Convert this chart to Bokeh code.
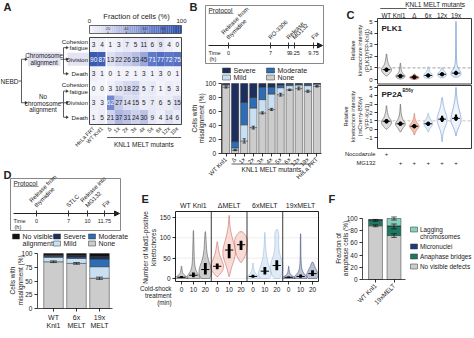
import numpy as np
from math import pi
from bokeh.plotting import figure
from bokeh.models import Range1d, LinearAxis, FixedTicker, LinearColorMapper, ColumnDataSource
from bokeh.core.properties import value
from bokeh.embed import file_html
from bokeh.resources import INLINE

W, H = 474, 338
FONT = "Liberation Sans"

# ======================= DATA =======================
# A: cell fate heat map (fraction of cells, %)
hm_cols = ["HeLa FRT", "WT Knl1", "Δ", "1x", "2x", "3x", "4x", "5x", "6x", "12x", "19x"]
align_cohesion = [3, 4, 1, 3, 7, 5, 11, 6, 9, 4, 0]
align_division = [90, 87, 13, 22, 26, 33, 45, 71, 77, 72, 75]
align_death = [3, 1, 0, 1, 2, 1, 3, 1, 3, 0, 1]
noalign_cohesion = [0, 0, 3, 10, 18, 22, 5, 7, 1, 5, 3]
noalign_division = [3, 3, 62, 27, 14, 15, 5, 7, 6, 5, 15]
noalign_death = [1, 5, 21, 37, 31, 24, 30, 9, 4, 14, 6]
cbar_inner_ticks = [20, 40, 60, 80]

# B: misalignment after RO-3306 release (%)
b_labels = ["WT Knl1", "Δ", "1x", "2x", "3x", "4x", "5x", "6x", "12x", "19x", "HeLa FRT"]
b_none = [95, 5, 18, 37, 58, 63, 84, 91, 93, 89, 96]
b_mild = [3, 3, 23, 28, 19, 22, 10, 6, 5, 8, 3]
b_moderate = [1, 9, 32, 15, 18, 10, 4, 2, 1, 2, 1]
b_severe = [1, 83, 27, 20, 5, 5, 2, 1, 1, 1, 0]
b_none_err = [1.5, 1, 3, 2, 1.5, 1.5, 2, 1, 2, 1.5, 1]
b_ticks = [0, 20, 40, 60, 80, 100]
b_times = ["0", "7", "9", "9.25", "9.75"]
b_events = ["Release from\nthymidine", "RO-3306", "Release", "MG132", "Fix"]

# C: relative kinetochore intensities (violins)
c_groups = ["WT Knl1", "Δ", "6x", "12x", "19x"]
c_nocodazole = ["+", "", "", "", "", ""]
c_mg132 = ["", "+", "+", "+", "+", "+"]
plk_ticks = [0, 1, 2, 3, 4, 5]
plk_ys = [[0.3, 0.5, 0.7, 0.85, 1.0, 1.2, 1.5, 1.8, 2.2],
          [0.05, 0.15, 0.3, 0.45, 0.6, 0.9, 1.4],
          [0.0, 0.1, 0.2, 0.3, 0.5],
          [0.1, 0.2, 0.35, 0.5, 0.7, 1.1],
          [0.15, 0.3, 0.45, 0.6, 0.8, 1.0],
          [0.2, 0.35, 0.55, 0.75, 1.0, 1.5, 2.5, 3.5, 5.0]]
plk_hw = [[0.05, 0.25, 0.42, 0.45, 0.4, 0.22, 0.12, 0.06, 0.02],
          [0.1, 0.35, 0.42, 0.3, 0.15, 0.06, 0.02],
          [0.15, 0.4, 0.45, 0.2, 0.03],
          [0.15, 0.4, 0.42, 0.3, 0.12, 0.02],
          [0.15, 0.35, 0.42, 0.3, 0.12, 0.03],
          [0.15, 0.4, 0.45, 0.35, 0.15, 0.05, 0.03, 0.02, 0.01]]
plk_med = [0.85, 0.3, 0.2, 0.35, 0.45, 0.55]
plk_q1 = [0.7, 0.2, 0.12, 0.25, 0.35, 0.42]
plk_q3 = [1.0, 0.4, 0.28, 0.45, 0.55, 0.75]
pp2_ticks = [-1, 0, 1, 2, 3, 4, 5]
pp2_ys = [[0.0, 0.3, 0.6, 0.9, 1.1, 1.4, 1.8, 2.3, 2.8],
          [-0.3, 0.1, 0.4, 0.65, 0.9, 1.2, 1.6, 2.2, 3.0],
          [-0.7, -0.2, 0.1, 0.35, 0.6, 0.9, 1.3, 1.9],
          [-0.3, 0.1, 0.4, 0.65, 0.9, 1.2, 1.5, 1.9],
          [-1.5, -0.5, 0.2, 0.7, 1.2, 1.7, 2.3, 3.0, 3.8],
          [-0.8, -0.2, 0.4, 0.9, 1.3, 1.8, 2.5, 3.3, 4.2, 5.0]]
pp2_hw = [[0.05, 0.25, 0.42, 0.45, 0.38, 0.22, 0.12, 0.05, 0.02],
          [0.05, 0.2, 0.4, 0.45, 0.35, 0.2, 0.1, 0.04, 0.01],
          [0.02, 0.15, 0.35, 0.45, 0.35, 0.18, 0.06, 0.01],
          [0.03, 0.15, 0.35, 0.42, 0.35, 0.2, 0.08, 0.01],
          [0.01, 0.08, 0.25, 0.4, 0.45, 0.38, 0.22, 0.1, 0.02],
          [0.02, 0.1, 0.3, 0.45, 0.45, 0.38, 0.25, 0.12, 0.05, 0.01]]
pp2_med = [0.95, 0.65, 0.35, 0.65, 1.2, 1.3]
pp2_q1 = [0.7, 0.45, 0.15, 0.45, 0.85, 1.0]
pp2_q3 = [1.2, 0.9, 0.55, 0.85, 1.6, 1.75]

# D: misalignment after STLC washout (%)
d_labels = ["WT\nKnl1", "6x\nMELT", "19x\nMELT"]
d_none = [85, 82, 55]
d_mild = [8, 9, 21]
d_moderate = [2, 2, 14]
d_severe = [2, 3, 4]
d_novis = [3, 4, 6]
d_none_err = [1.5, 1.5, 2]
d_ticks = [0, 25, 50, 75, 100]
d_times = ["0", "7", "10", "11.75"]
d_events = ["Release from\nthymidine", "STLC", "Release into\nMG132", "Fix"]

# E: Mad1-positive kinetochores after cold shock
e_groups = ["WT Knl1", "ΔMELT", "6xMELT", "19xMELT"]
e_times = ["0", "10", "20"]
e_ticks = [0, 50, 100, 150]
e_ys = [[0, 3, 6, 10, 15, 22, 30],
        [0, 5, 10, 18, 30, 50, 80, 118],
        [0, 8, 18, 30, 45, 65, 90, 115],
        [5, 15, 22, 30, 38, 50, 65, 80, 90],
        [5, 25, 45, 60, 75, 90, 110, 130, 155],
        [40, 55, 70, 85, 95, 105, 115],
        [0, 4, 8, 14, 22, 30, 38],
        [0, 8, 15, 25, 40, 60, 85, 113],
        [0, 12, 25, 40, 55, 70, 90, 110, 120],
        [0, 3, 6, 10, 18, 30],
        [0, 4, 8, 15, 25, 45, 75, 110],
        [0, 5, 10, 18, 28, 40]]
e_hw = [[0.45, 0.45, 0.3, 0.15, 0.07, 0.04, 0.02],
        [0.45, 0.45, 0.35, 0.2, 0.1, 0.06, 0.04, 0.01],
        [0.3, 0.42, 0.45, 0.38, 0.22, 0.1, 0.06, 0.02],
        [0.05, 0.3, 0.42, 0.45, 0.4, 0.25, 0.12, 0.05, 0.02],
        [0.02, 0.15, 0.35, 0.45, 0.42, 0.3, 0.15, 0.05, 0.01],
        [0.05, 0.3, 0.42, 0.45, 0.45, 0.35, 0.1],
        [0.45, 0.45, 0.3, 0.15, 0.06, 0.03, 0.01],
        [0.3, 0.45, 0.45, 0.35, 0.2, 0.1, 0.04, 0.01],
        [0.2, 0.38, 0.45, 0.4, 0.25, 0.15, 0.12, 0.15, 0.05],
        [0.45, 0.45, 0.28, 0.12, 0.04, 0.01],
        [0.45, 0.45, 0.35, 0.18, 0.07, 0.03, 0.02, 0.01],
        [0.3, 0.4, 0.42, 0.32, 0.18, 0.04]]
e_med = [3, 8, 22, 30, 70, 83, 5, 18, 32, 3, 5, 12]
e_q1 = [1, 3, 10, 23, 50, 70, 2, 10, 20, 1, 2, 6]
e_q3 = [6, 15, 38, 37, 85, 93, 9, 28, 45, 5, 10, 20]

# F: anaphase defects (%)
f_labels = ["WT Knl1", "19xMELT"]
f_none = [88, 72]
f_bridges = [9, 15]
f_micro = [1, 1]
f_lagging = [0, 12]
f_none_err = [1.5, 3]
f_bridge_err = [1.5, 4]
f_lag_err = [0, 2.5]
f_ticks = [0, 20, 40, 60, 80, 100]

# ======================= STYLE =======================
SEV, MOD, MILD, NONE, NOVIS = "#1c2f5c", "#2e6cb3", "#c9e0f2", "#cccccc", "#111111"
LAG, MICRO, BRIDGE = "#86d0bd", "#1e3a78", "#1d7a62"
EDGE = "#333333"

def xmap(d0, p0, d1, p1):
    k = (d1 - d0) / (p1 - p0)
    return Range1d(start=d0 - p0 * k, end=d0 + (W - p0) * k)

def ymap(d0, p0, d1, p1):
    k = (d1 - d0) / (p1 - p0)
    return Range1d(start=d0 + (H - p0) * k, end=d0 - p0 * k)

def inv(d0, p0, d1, p1):
    return lambda px: d0 + (px - p0) * (d1 - d0) / (p1 - p0)

p = figure(width=W, height=H, x_range=Range1d(0, W), y_range=Range1d(H, 0),
           x_axis_location=None, y_axis_location=None, toolbar_location=None,
           output_backend="svg", min_border=0, outline_line_color=None)
p.grid.visible = False

p.extra_x_ranges = {
    "hmx": xmap(-0.5, 89, 10.5, 181), "cbx": xmap(0, 89, 100, 181),
    "bbx": xmap(-0.5, 221, 10.5, 321), "cx": xmap(0, 386, 5, 455.5),
    "dx": xmap(0, 53, 2, 99), "ex": xmap(0, 181, 11, 312), "fx": xmap(0, 375, 1, 393.5)}
p.extra_y_ranges = {
    "hmy": ymap(-0.5, 37, 5.5, 124), "bby": ymap(0, 153, 100, 83),
    "plk": ymap(0, 79, 5, 21), "pp2": ymap(-1, 137, 5, 87),
    "dy": ymap(0, 308, 100, 253), "ey": ymap(0, 278, 150, 217), "fy": ymap(0, 279, 100, 218)}


def _kw(xr, yr):
    kw = {}
    if xr:
        kw["x_range_name"] = xr
    if yr:
        kw["y_range_name"] = yr
    return kw


def T(x, y, text, size=6.5, align="left", baseline="middle", angle=0.0, color="#222222",
      bold=False, xr=None, yr=None):
    xs = list(x) if isinstance(x, (list, tuple, range, np.ndarray)) else [x]
    ys = list(y) if isinstance(y, (list, tuple, range, np.ndarray)) else [y]
    n = max(len(xs), len(ys))
    if len(xs) == 1:
        xs = xs * n
    if len(ys) == 1:
        ys = ys * n
    texts = list(text) if isinstance(text, (list, tuple)) else [text] * n
    p.text(x=xs, y=ys, text=texts, text_font=value(FONT), text_font_size=f"{size}px",
           text_align=align, text_baseline=baseline, angle=angle, text_color=color,
           text_font_style="bold" if bold else "normal", **_kw(xr, yr))


def S(x0, y0, x1, y1, color=EDGE, w=0.8, dash="solid", xr=None, yr=None):
    p.segment(x0=x0, y0=y0, x1=x1, y1=y1, line_color=color, line_width=w,
              line_dash=dash, **_kw(xr, yr))


def Q(l, r, t, b, fill=None, line=EDGE, w=0.8, xr=None, yr=None):
    p.quad(left=l, right=r, top=t, bottom=b, fill_color=fill, line_color=line,
           line_width=w, **_kw(xr, yr))


def head(x, y, s=3.0, h=1.6, yr=None):
    p.patch([x - s, x, x - s], [y - h, y, y + h], fill_color=EDGE,
            line_color=EDGE, line_width=0.3, **_kw(None, yr))


def axis(side, xr, yr, loc, ticks, bounds, labels=None, orient="horizontal", line=True, size=6.5):
    ax = LinearAxis(x_range_name=xr, y_range_name=yr, fixed_location=loc,
                    ticker=FixedTicker(ticks=ticks), bounds=bounds)
    if labels is not None:
        ax.major_label_overrides = {t: l for t, l in zip(ticks, labels)}
    ax.major_label_orientation = orient
    ax.major_label_text_font = FONT
    ax.major_label_text_font_size = f"{size}px"
    ax.major_label_text_color = "#222222"
    ax.major_tick_out = 3
    ax.major_tick_in = 0
    ax.minor_tick_out = 0
    ax.minor_tick_in = 0
    ax.major_label_standoff = 2
    ax.axis_line_width = 0.8
    ax.major_tick_line_width = 0.8
    ax.axis_line_color = "#222222" if line else None
    p.add_layout(ax, side)


def stacked(xr, yr, layers, colors, width):
    n = len(layers[0])
    bottom = np.zeros(n)
    for vals, col in zip(layers, colors):
        top = bottom + np.array(vals, dtype=float)
        p.vbar(x=list(range(n)), bottom=list(bottom), top=list(top), width=width,
               fill_color=col, line_color=EDGE, line_width=0.5, x_range_name=xr, y_range_name=yr)
        bottom = top


def errbars(xr, yr, tops, errs, cap=0.18):
    xs = [i for i, e in enumerate(errs) if e > 0]
    t = [float(tops[i]) for i in xs]
    e = [float(errs[i]) for i in xs]
    lo = [a - b for a, b in zip(t, e)]
    hi = [a + b for a, b in zip(t, e)]
    S(xs, lo, xs, hi, color="#111111", w=0.7, xr=xr, yr=yr)
    S([x - cap for x in xs], hi, [x + cap for x in xs], hi, color="#111111", w=0.7, xr=xr, yr=yr)
    S([x - cap for x in xs], lo, [x + cap for x in xs], lo, color="#111111", w=0.7, xr=xr, yr=yr)


def chaikin(xs, ys, n=2):
    pts = list(zip(xs, ys))
    for _ in range(n):
        new = [pts[0]]
        for (x0, y0), (x1, y1) in zip(pts[:-1], pts[1:]):
            new.append((0.75 * x0 + 0.25 * x1, 0.75 * y0 + 0.25 * y1))
            new.append((0.25 * x0 + 0.75 * x1, 0.25 * y0 + 0.75 * y1))
        new.append(pts[-1])
        pts = new
    return [a for a, _ in pts], [b for _, b in pts]


def violin(xr, yr, c, ys, hw, line, fill, lw=0.7, scale=1.0, alpha=0.9):
    h, y = chaikin(hw, ys)
    h = [a * scale for a in h]
    xs = [c + a for a in h] + [c - a for a in reversed(h)]
    yy = list(y) + list(reversed(y))
    p.patch(xs, yy, fill_color=fill, fill_alpha=alpha, line_color=line, line_width=lw,
            x_range_name=xr, y_range_name=yr)


def protocol(x0, y0, x1, y1, ly, tx0, tx1, ticks_px, times, events, ev_y):
    Q(x0, x1, y0, y1, line="#555555", w=0.7)
    T(x0 + 3, y0 + 4.5, "Protocol", size=6.5)
    S(x0 + 3, y0 + 8, x0 + 28, y0 + 8, w=0.5)
    S(tx0, ly, tx1 - 4, ly, color="#222222", w=1.0)
    p.patch([tx1 - 5, tx1, tx1 - 5], [ly - 2.5, ly, ly + 2.5], fill_color="#222222", line_color="#222222")
    S(ticks_px, [ly - 3] * len(ticks_px), ticks_px, [ly + 3] * len(ticks_px), color="#222222", w=0.9)
    T(ticks_px, ly + 7, times, size=5.5, align="center")
    T(tx0, ly + 7, "Time", size=5.5)
    T(tx0 + 1, ly + 13, "(h)", size=5.5)
    T([t + 1 for t in ticks_px], ev_y, events, size=6, angle=pi / 4, baseline="bottom")


# ======================= PANEL A =======================
T(3, 6, "A", size=11, bold=True)
stops = [(0, (244, 244, 251)), (25, (202, 206, 235)), (50, (142, 157, 215)),
         (75, (86, 113, 196)), (100, (38, 74, 166))]
pal = []
for v in range(101):
    for (a, ca), (b, cb) in zip(stops[:-1], stops[1:]):
        if a <= v <= b:
            f = (v - a) / (b - a)
            c = tuple(int(round(ca[k] + f * (cb[k] - ca[k]))) for k in range(3))
            break
    pal.append("#%02x%02x%02x" % c)
mapper = LinearColorMapper(palette=pal, low=0, high=100)

hm_rows = [align_cohesion, align_division, align_death,
           noalign_cohesion, noalign_division, noalign_death]
hx, hy, hv = [], [], []
for r, row in enumerate(hm_rows):
    for ci, v in enumerate(row):
        hx.append(ci)
        hy.append(r)
        hv.append(v)
src = ColumnDataSource(dict(x=hx, y=hy, v=hv, t=[str(v) for v in hv],
                            tc=["white" if v >= 50 else "#222222" for v in hv]))
p.rect("x", "y", 1, 1, source=src, fill_color={"field": "v", "transform": mapper},
       line_color=None, x_range_name="hmx", y_range_name="hmy")
p.text("x", "y", "t", source=src, text_color="tc", text_font=value(FONT), text_font_size="6.5px",
       text_align="center", text_baseline="middle", x_range_name="hmx", y_range_name="hmy")
S(1.5, -0.5, 1.5, 5.5, color="white", w=1.5, xr="hmx", yr="hmy")
Q(-0.5, 10.5, -0.5, 5.5, line="#444444", w=1.0, xr="hmx", yr="hmy")

# colour bar
steps = list(range(0, 100, 2))
p.quad(left=steps, right=[s + 2 for s in steps], top=25, bottom=33,
       fill_color=[pal[s + 1] for s in steps], line_color=None, x_range_name="cbx")
Q(0, 100, 25, 33, line="#444444", w=0.8, xr="cbx")
S(cbar_inner_ticks, [31] * 4, cbar_inner_ticks, [33] * 4, color="#333333", w=0.6, xr="cbx")
T(cbar_inner_ticks, 28.3, [str(t) for t in cbar_inner_ticks], size=4, align="center",
  color="#333333", xr="cbx")
T(0, 20.5, "0", size=6, align="center", xr="cbx")
T(100, 20.5, "100", size=6, align="center", xr="cbx")
T(136, 16, "Fraction of cells (%)", size=7.5, align="center")

# decision tree
T(18, 2.5, "NEBD", size=6.5, align="right", yr="hmy")
S(18, 2.5, 21, 2.5, yr="hmy")
S(21, 1, 21, 4, yr="hmy")
S([21, 21], [1, 4], [26, 26], [1, 4], yr="hmy")
for yy in (1, 4):
    head(27, yy, s=2.5, h=0.11, yr="hmy")
Q(27.5, 60, 0.52, 1.48, fill="#e3e3f3", line=None, yr="hmy")
T(43.7, [0.76, 1.24], ["Chromosome", "alignment"], size=6.3, align="center", yr="hmy")
T(42.5, [3.55, 4.02, 4.49], ["No", "chromosome", "alignment"], size=6.3, align="center", yr="hmy")
Q(67, 88.5, 0.55, 1.45, fill="#e3e3f3", line=None, yr="hmy")
for g in (0, 3):
    S(60, g + 1, 63, g + 1, yr="hmy")
    S(63, g + 0.2, 63, g + 2, yr="hmy")
    S([63] * 3, [g + 0.2, g + 1, g + 2], [67] * 3, [g + 0.2, g + 1, g + 2], yr="hmy")
    for yy in (g + 0.2, g + 1, g + 2):
        head(68, yy, s=2.3, h=0.1, yr="hmy")
    T(87.5, [g - 0.25, g + 0.2, g + 1, g + 2], ["Cohesion", "fatigue", "Division", "Death"],
      size=6.2, align="right", yr="hmy")

T(list(range(11)), 5.72, hm_cols, size=5.5, align="right", angle=pi / 4, xr="hmx", yr="hmy")
S(1.6, 137, 10.45, 137, w=0.8, xr="hmx")
T(6, 143.5, "KNL1 MELT mutants", size=6.5, align="center", xr="hmx")

# ======================= PANEL B =======================
T(189, 6, "B", size=11, bold=True)
protocol(205, 5, 323, 63, 45, 208, 322, [228, 270, 288, 294, 313], b_times, b_events, 40)
for (xq, yq, col, lab) in [(222, 70, SEV, "Severe"), (266, 70, MOD, "Moderate"),
                           (222, 77, MILD, "Mild"), (266, 77, NONE, "None")]:
    Q(xq, xq + 8, yq - 2.5, yq + 2.5, fill=col, line=EDGE, w=0.5)
    T(xq + 11, yq, lab, size=7)

stacked("bbx", "bby", [b_none, b_mild, b_moderate, b_severe], [NONE, MILD, MOD, SEV], 0.8)
errbars("bbx", "bby", b_none, b_none_err)
axis("left", "bbx", "bby", -0.55, b_ticks, (0, 100))
axis("below", "bbx", "bby", 0, list(range(11)), (-0.55, 10.5), labels=b_labels, orient=pi / 4, size=6)
T(194, 118, "Cells with", size=6.5, align="center", angle=pi / 2)
T(201, 118, "misalignment (%)", size=6.5, align="center", angle=pi / 2)
S(0.6, 163.5, 9.4, 163.5, w=0.8, xr="bbx")
T(5, 169, "KNL1 MELT mutants", size=6.5, align="center", xr="bbx")

# ======================= PANEL C =======================
T(346, 14, "C", size=11, bold=True)
T(3.5, 3.5, "KNL1 MELT mutants", size=6.5, align="center", xr="cx")
S(1.6, 8, 5.45, 8, w=0.8, xr="cx")
S(-0.45, 8, 1.45, 8, w=0.8, xr="cx")
T([0.5, 2, 3, 4, 5], 14.5, c_groups, size=6.3, align="center", xr="cx")

cx_inv = inv(0, 386, 5, 455.5)
c_line = ["#555555", "#555555", "#c77a63", "#86acd8", "#6f9bd2", "#5b8bca"]
c_fill_plk = ["#dcdcdc", "#dcdcdc", "#c98a76", "#e2ecf7", "#e2ecf7", "#e2ecf7"]
c_fill_pp2 = ["#dcdcdc", "#dcdcdc", "#f1b9a9", "#dde9f6", "#edf2f9", "#edf2f9"]
for (yr, ys_l, hw_l, med, q1, q3, fills, y0, y1, ticks, ref) in [
        ("plk", plk_ys, plk_hw, plk_med, plk_q1, plk_q3, c_fill_plk, 18, 83.5, plk_ticks, "#888888"),
        ("pp2", pp2_ys, pp2_hw, pp2_med, pp2_q1, pp2_q3, c_fill_pp2, 85, 148, pp2_ticks, "#e0a49a")]:
    Q(377, 471, y0, y1, line="#222222", w=0.9)
    S(cx_inv(377), 1, cx_inv(471), 1, color=ref, w=0.8, dash="3 2", xr="cx", yr=yr)
    for i in range(6):
        violin("cx", yr, i, ys_l[i], hw_l[i], c_line[i], fills[i], lw=0.6, scale=0.82)
    S(list(range(6)), q1, list(range(6)), q3, color="black", w=2.2, xr="cx", yr=yr)
    S([i - 0.28 for i in range(6)], med, [i + 0.28 for i in range(6)], med, color="black", w=0.9, xr="cx", yr=yr)
    p.scatter(list(range(6)), med, size=3.5, color="black", x_range_name="cx", y_range_name=yr)
    axis("left", "cx", yr, cx_inv(377), ticks, (min(ticks), max(ticks)), line=False, size=6)
T(381, 28, "PLK1", size=8, bold=True)
T(381, 93.5, "PP2A", size=8, bold=True)
T(402, 90, "B56γ", size=4.5, bold=True)
T([352, 359, 366], 50, ["Relative", "kinetochore intensity", "(PLK1/YFP-Knl1)"],
  size=5.6, align="center", angle=pi / 2)
T([345, 352, 359, 366], 116, ["Relative", "kinetochore intensity", "(mCherry-B56γ/", "YFP-Knl1)"],
  size=5.6, align="center", angle=pi / 2)
T(375, 153, "Nocodazole", size=5.8, align="right")
T(375, 162, "MG132", size=5.8, align="right")
T(list(range(6)), 153, c_nocodazole, size=6, align="center", xr="cx")
T(list(range(6)), 162, c_mg132, size=6, align="center", xr="cx")

# ======================= PANEL D =======================
T(3, 174, "D", size=11, bold=True)
protocol(10, 178, 120, 230, 213, 13, 119, [36, 68, 87, 104], d_times, d_events, 208)
for (xq, yq, col, lab) in [(12, 236, NOVIS, "No visible"), (53, 236, SEV, "Severe"),
                           (88, 236, MOD, "Moderate"), (53, 243, MILD, "Mild"), (88, 243, NONE, "None")]:
    Q(xq, xq + 7, yq - 2.5, yq + 2.5, fill=col, line=EDGE, w=0.5)
    T(xq + 10, yq, lab, size=7)
T(22, 243, "alignment", size=7)

stacked("dx", "dy", [d_none, d_mild, d_moderate, d_severe, d_novis], [NONE, MILD, MOD, SEV, NOVIS], 0.85)
errbars("dx", "dy", d_none, d_none_err, cap=0.15)
axis("left", "dx", "dy", -0.7, d_ticks, (0, 100))
axis("below", "dx", "dy", 0, [0, 1, 2], (-0.7, 2.55), labels=d_labels, size=7)
T(12, 280, "Cells with", size=6.5, align="center", angle=pi / 2)
T(19.5, 280, "misalignment (%)", size=6.5, align="center", angle=pi / 2)

# ======================= PANEL E =======================
T(141, 198, "E", size=11, bold=True)
ey_inv = inv(0, 278, 150, 217)
S([-0.5] * 4, e_ticks, [11.5] * 4, e_ticks, color="#e4e4e4", w=0.6, xr="ex", yr="ey")
e_line = ["#444444", "#c0504d", "#8fb3da", "#2e3f70"]
e_fill = ["#9a9a9a", "#f2b9ad", "#c2d8ef", "#7885a8"]
for i in range(12):
    violin("ex", "ey", i, e_ys[i], e_hw[i], e_line[i // 3], e_fill[i // 3], lw=0.5, scale=1.2, alpha=0.5)
S(list(range(12)), e_q1, list(range(12)), e_q3, color="black", w=2.8, xr="ex", yr="ey")
S([i - 0.35 for i in range(12)], e_med, [i + 0.35 for i in range(12)], e_med, color="black", w=1.0, xr="ex", yr="ey")
S([2.5, 5.5, 8.5], [211] * 3, [2.5, 5.5, 8.5], [281] * 3, color="#222222", w=0.9, xr="ex")
Q(175, 318, 211, 281, line="#222222", w=1.0)
axis("left", "ex", "ey", -0.5, e_ticks, (0, 150), line=False)
axis("below", "ex", "ey", ey_inv(281), list(range(12)), (-0.5, 11.5), labels=e_times * 4, line=False)
T([1, 4, 7, 10], 205, e_groups, size=7, align="center", xr="ex")
T(171, [287.5, 294.5, 301.5], ["Cold-shock", "treatment", "(min)"], size=6.3, align="right")
T(145, 247, "Number of Mad1-positive", size=6.5, align="center", angle=pi / 2)
T(152.5, 247, "kinetochores", size=6.5, align="center", angle=pi / 2)

# ======================= PANEL F =======================
T(328, 198, "F", size=11, bold=True)
stacked("fx", "fy", [f_none, f_bridges, f_micro, f_lagging], [NONE, BRIDGE, MICRO, LAG], 0.75)
f_c1 = [float(v) for v in np.array(f_none)]
f_c2 = [float(v) for v in np.array(f_none) + np.array(f_bridges)]
f_c4 = [float(v) for v in np.array(f_none) + np.array(f_bridges) + np.array(f_micro) + np.array(f_lagging)]
errbars("fx", "fy", f_c1, f_none_err, cap=0.15)
errbars("fx", "fy", f_c2, f_bridge_err, cap=0.15)
errbars("fx", "fy", f_c4, f_lag_err, cap=0.15)
axis("left", "fx", "fy", -0.7, f_ticks, (0, 100))
axis("below", "fx", "fy", 0, [0, 1], (-0.7, 1.6), labels=f_labels, orient=pi / 4, size=6.3)
T(337.5, 248, "Fraction of", size=6.5, align="center", angle=pi / 2)
T(345, 248, "anaphase cells (%)", size=6.5, align="center", angle=pi / 2)
for (yq, col, lab) in [(229, LAG, "Lagging"), (246, MICRO, "Micronuclei"),
                       (256, BRIDGE, "Anaphase bridges"), (266, NONE, "No visible defects")]:
    Q(410, 417, yq - 2.5, yq + 2.5, fill=col, line=EDGE, w=0.5)
    T(419.5, yq, lab, size=6.4)
T(419.5, 236, "chromosomes", size=6.4)

open("out.html", "w").write(file_html(p, INLINE))
